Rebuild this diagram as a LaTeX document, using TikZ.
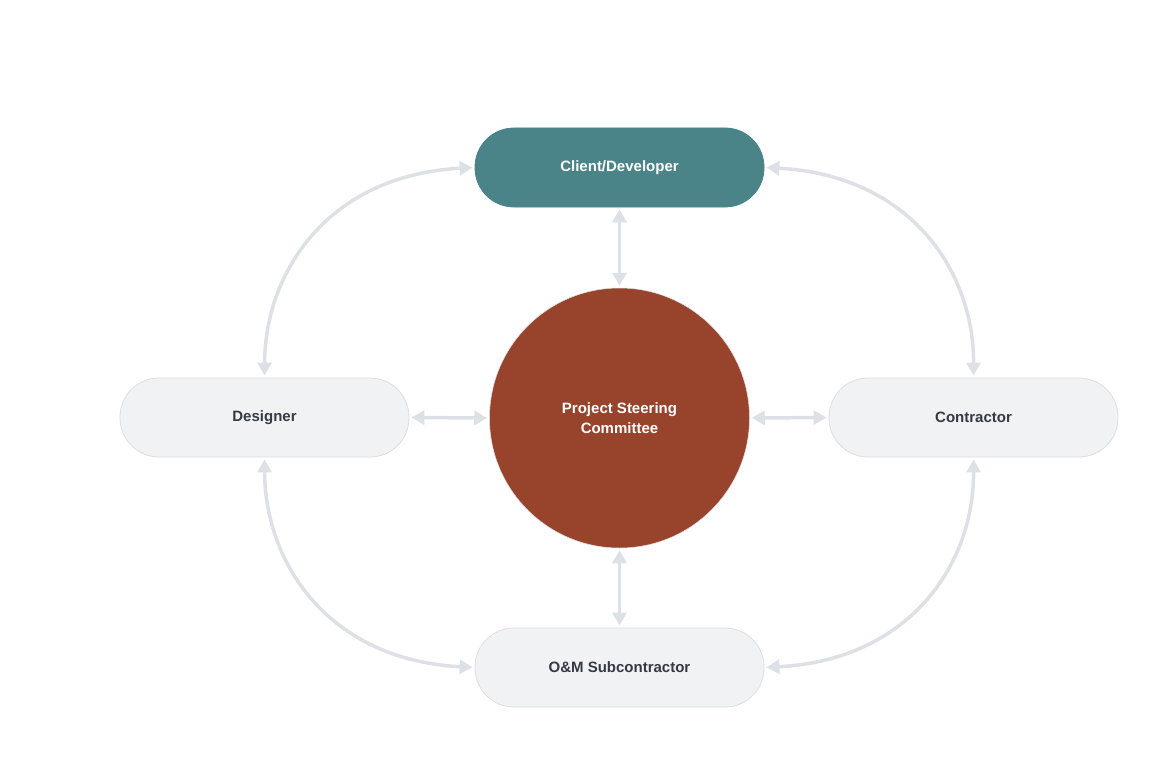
\documentclass[tikz,border=0pt]{standalone}
\usepackage{fontspec}
\setmainfont{Liberation Sans}
\usetikzlibrary{arrows.meta}
\definecolor{teal}{HTML}{4A8489}
\definecolor{rust}{HTML}{98432C}
\definecolor{pill}{HTML}{F1F2F4}
\definecolor{pillb}{HTML}{DCDEE2}
\definecolor{conn}{HTML}{DDE0E5}
\definecolor{txt}{HTML}{343A44}
\begin{document}
\begin{tikzpicture}[x=1pt,y=-1pt,
  pillnode/.style={draw=pillb,line width=0.8pt,fill=pill,rounded corners=39pt,minimum width=289pt,minimum height=79pt,font=\bfseries\fontsize{15}{18}\selectfont,text=txt},
  link/.style={draw=conn,line width=3.5pt,{Triangle[length=13pt,width=14pt]}-{Triangle[length=13pt,width=14pt]},shorten >=2pt,shorten <=2pt}]
\useasboundingbox (0,0) rectangle (1169,770);
\node[pillnode,fill=teal,draw=teal,text=white] (client) at (619.5,167.5) {Client/Developer};
\node[pillnode] (designer) at (264.5,417.5) {Designer};
\node[pillnode] (contractor) at (973.5,417.5) {Contractor};
\node[pillnode] (om) at (619.5,667.5) {O\&M Subcontractor};
\node[circle,fill=rust,draw=pillb,line width=0.5pt,minimum size=260pt,text=white,align=center,font=\bfseries\fontsize{15}{20}\selectfont] (psc) at (619.5,418) {Project Steering\\Committee};
\draw[link] (client.west) .. controls (330,175) and (265,270) .. (designer.north);
\draw[link] (client.east) .. controls (909,175) and (974,270) .. (contractor.north);
\draw[link] (designer.south) .. controls (265,565) and (330,660) .. (om.west);
\draw[link] (contractor.south) .. controls (974,565) and (909,660) .. (om.east);
\draw[link] (client.south) -- (psc.north);
\draw[link] (om.north) -- (psc.south);
\draw[link] (designer.east) -- (psc.west);
\draw[link] (contractor.west) -- (psc.east);
\end{tikzpicture}
\end{document}
